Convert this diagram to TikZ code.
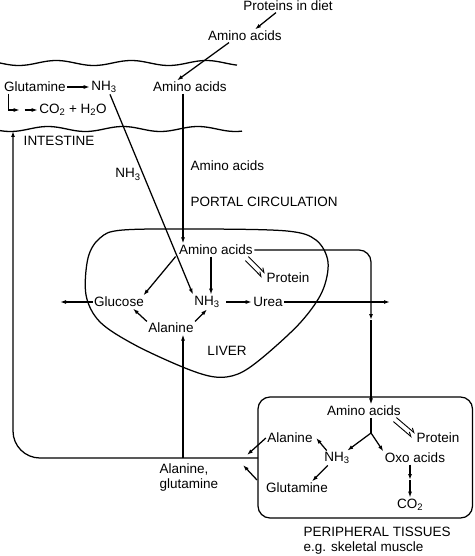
\documentclass[tikz,border=0pt]{standalone}
\usepackage{fontspec}
\setmainfont{Liberation Sans}
\usetikzlibrary{arrows.meta}
\tikzstyle{chem} = [inner sep=1pt]
\tikzstyle{arrow} = [->,>={Latex[length=6pt,width=4pt]}]
\tikzstyle{harp} = [-{Straight Barb[harpoon,length=4pt,width=5pt]}, line width=0.9pt]

\begin{document}
\begin{tikzpicture}[x=1pt, y=-1pt, line width=1.25pt,
        font=\fontsize{13.5}{15}\selectfont]
    \useasboundingbox (0,0) rectangle (474,556);

    % intestine wall
    \draw[line width=1.3pt] plot[domain=0:237, samples=80, smooth]
        (\x, {63+2.5*sin(\x*4.8)});
    \draw[line width=1.3pt] plot[domain=0:242, samples=80, smooth]
        (\x, {129+2.5*sin(\x*4.8+40)});

    \node (diet) [chem] at (288,6) {Proteins in diet};
    \node (aaDiet) [chem] at (245,36) {Amino acids};
    \node (gln) [chem] at (35,87) {Glutamine};
    \node (nhGut) [chem] at (104,87) {NH\textsubscript{3}};
    \node (aaGut) [chem] at (190,87) {Amino acids};
    \node (co2Gut) [chem] at (73,110) {CO\textsubscript{2} + H\textsubscript{2}O};
    \node (gutName) [chem] at (59,141) {INTESTINE};

    \draw [arrow] ([xshift=-12pt]diet.south) -- ([xshift=10pt]aaDiet.north);
    \draw [arrow] ([xshift=-16pt]aaDiet.south) -- ([xshift=-13pt]aaGut.north);
    \draw [arrow] (gln) -- (nhGut);
    \draw [arrow] ([xshift=6pt]gln.south west) |- ([xshift=-18pt]co2Gut.west);
    \draw [arrow] ([xshift=-13pt]co2Gut.west) -- (co2Gut.west);

    % liver
    \draw plot[smooth cycle, tension=0.55] coordinates {(123,230) (205,229)
        (287,231) (316,240) (328,262) (322,292) (300,323) (262,358) (238,374)
        (215,377) (185,368) (135,345) (100,322) (86,295) (88,258) (100,238)};

    \node (aaLiv) [chem] at (216,250) {Amino acids};
    \node (protLiv) [chem] at (288,278) {Protein};
    \node (glc) [chem] at (119,302) {Glucose};
    \node (nhLiv) [chem] at (207,302) {NH\textsubscript{3}};
    \node (urea) [chem] at (268,302) {Urea};
    \node (alaLiv) [chem] at (171,328) {Alanine};
    \node (livName) [chem] at (227,351) {LIVER};
    \coordinate (glcOut) at (60,302);
    \coordinate (ureaOut) at (390,302);

    \draw [arrow] ([xshift=6pt]nhGut.south) -- node[chem, pos=0.4, left=1pt]
        {NH\textsubscript{3}} ([xshift=-14pt]nhLiv.north);
    \draw [arrow] ([xshift=-7pt]aaGut.south) -- ([xshift=-7pt]aaGut.south |- aaLiv.north)
        node[chem, pos=0.48, anchor=west, xshift=6pt] {Amino acids}
        node[chem, pos=0.72, anchor=west, xshift=6pt] {PORTAL CIRCULATION};
    \draw [arrow] ([xshift=-2pt]aaLiv.south west) -- ([xshift=-2pt]glc.north east);
    \draw [arrow] ([xshift=-5pt]aaLiv.south) -- ([xshift=-5pt]aaLiv.south |- nhLiv.north);
    \draw [harp] ([shift={(-6,0)}]aaLiv.south east) -- ([shift={(0,2)}]protLiv.north west);
    \draw [harp] ([shift={(-9,4)}]aaLiv.south east) -- ([shift={(-3,6)}]protLiv.north west);
    \draw [arrow, shorten <=5pt] (nhLiv) -- (urea);
    \draw [arrow] (urea.east) -- (ureaOut);
    \draw [arrow] (glc.west) -- (glcOut);
    \draw [arrow] (alaLiv.north west) -- ([xshift=14pt]glc.south);
    \draw [arrow] (alaLiv.north east) -- (nhLiv.south);

    % peripheral tissues
    \draw [rounded corners=12pt] (258,397) rectangle (472.5,518);

    \node (aaPer) [chem] at (364,411) {Amino acids};
    \node (protPer) [chem] at (438,438) {Protein};
    \node (alaPer) [chem] at (290,438) {Alanine};
    \node (nhPer) [chem] at (337,458) {NH\textsubscript{3}};
    \node (oxo) [chem] at (415,458) {Oxo acids};
    \node (glnPer) [chem] at (297,488) {Glutamine};
    \node (co2Per) [chem] at (410,505) {CO\textsubscript{2}};
    \node (perName) [chem, align=left, anchor=north west] at (302,525)
        {PERIPHERAL TISSUES\\e.g. skeletal muscle};
    \node (mix) [chem, align=left, anchor=north west] at (158,462)
        {Alanine,\\glutamine};
    \coordinate (midAA) at (371,320);
    \coordinate (br) at (371,433);
    \coordinate (midCO) at (410,480);
    \coordinate (boxL) at (258,458);
    \coordinate (jn) at (183,458);
    \coordinate (gutIn) at (13,131);
    \coordinate (alaOut) at (247,455);
    \coordinate (glnIn) at (257,480);
    \coordinate (glnOut) at (243,465);

    \draw [arrow, rounded corners=12pt] (aaLiv.east) -| (midAA);
    \draw [arrow] (midAA) -- ([xshift=7pt]aaPer.north);
    \draw ([xshift=7pt]aaPer.south) -- (br);
    \draw [arrow] (br) -- ([xshift=-4pt]nhPer.north east);
    \draw [arrow] (br) -- (oxo.north west);
    \draw [harp] ([shift={(-6,0)}]aaPer.south east) -- ([shift={(0,2)}]protPer.north west);
    \draw [harp] ([shift={(-9,4)}]aaPer.south east) -- ([shift={(-3,6)}]protPer.north west);
    \draw [arrow] ([xshift=4pt]nhPer.north west) -- ([xshift=2pt]alaPer.east);
    \draw [arrow] ([xshift=5pt]nhPer.south west) -- ([xshift=15pt]glnPer.north);
    \draw [arrow] ([xshift=-5pt]oxo.south) -- (midCO);
    \draw [arrow] (midCO) -- (co2Per.north);
    \draw [arrow] (alaPer.west) -- (alaOut);
    \draw [arrow] (glnIn) -- (glnOut);

    % return to intestine and liver
    \draw [arrow, rounded corners=27pt] (boxL) -| (gutIn);
    \draw [arrow] (jn) -- (jn |- alaLiv.south);
\end{tikzpicture}
\end{document}
